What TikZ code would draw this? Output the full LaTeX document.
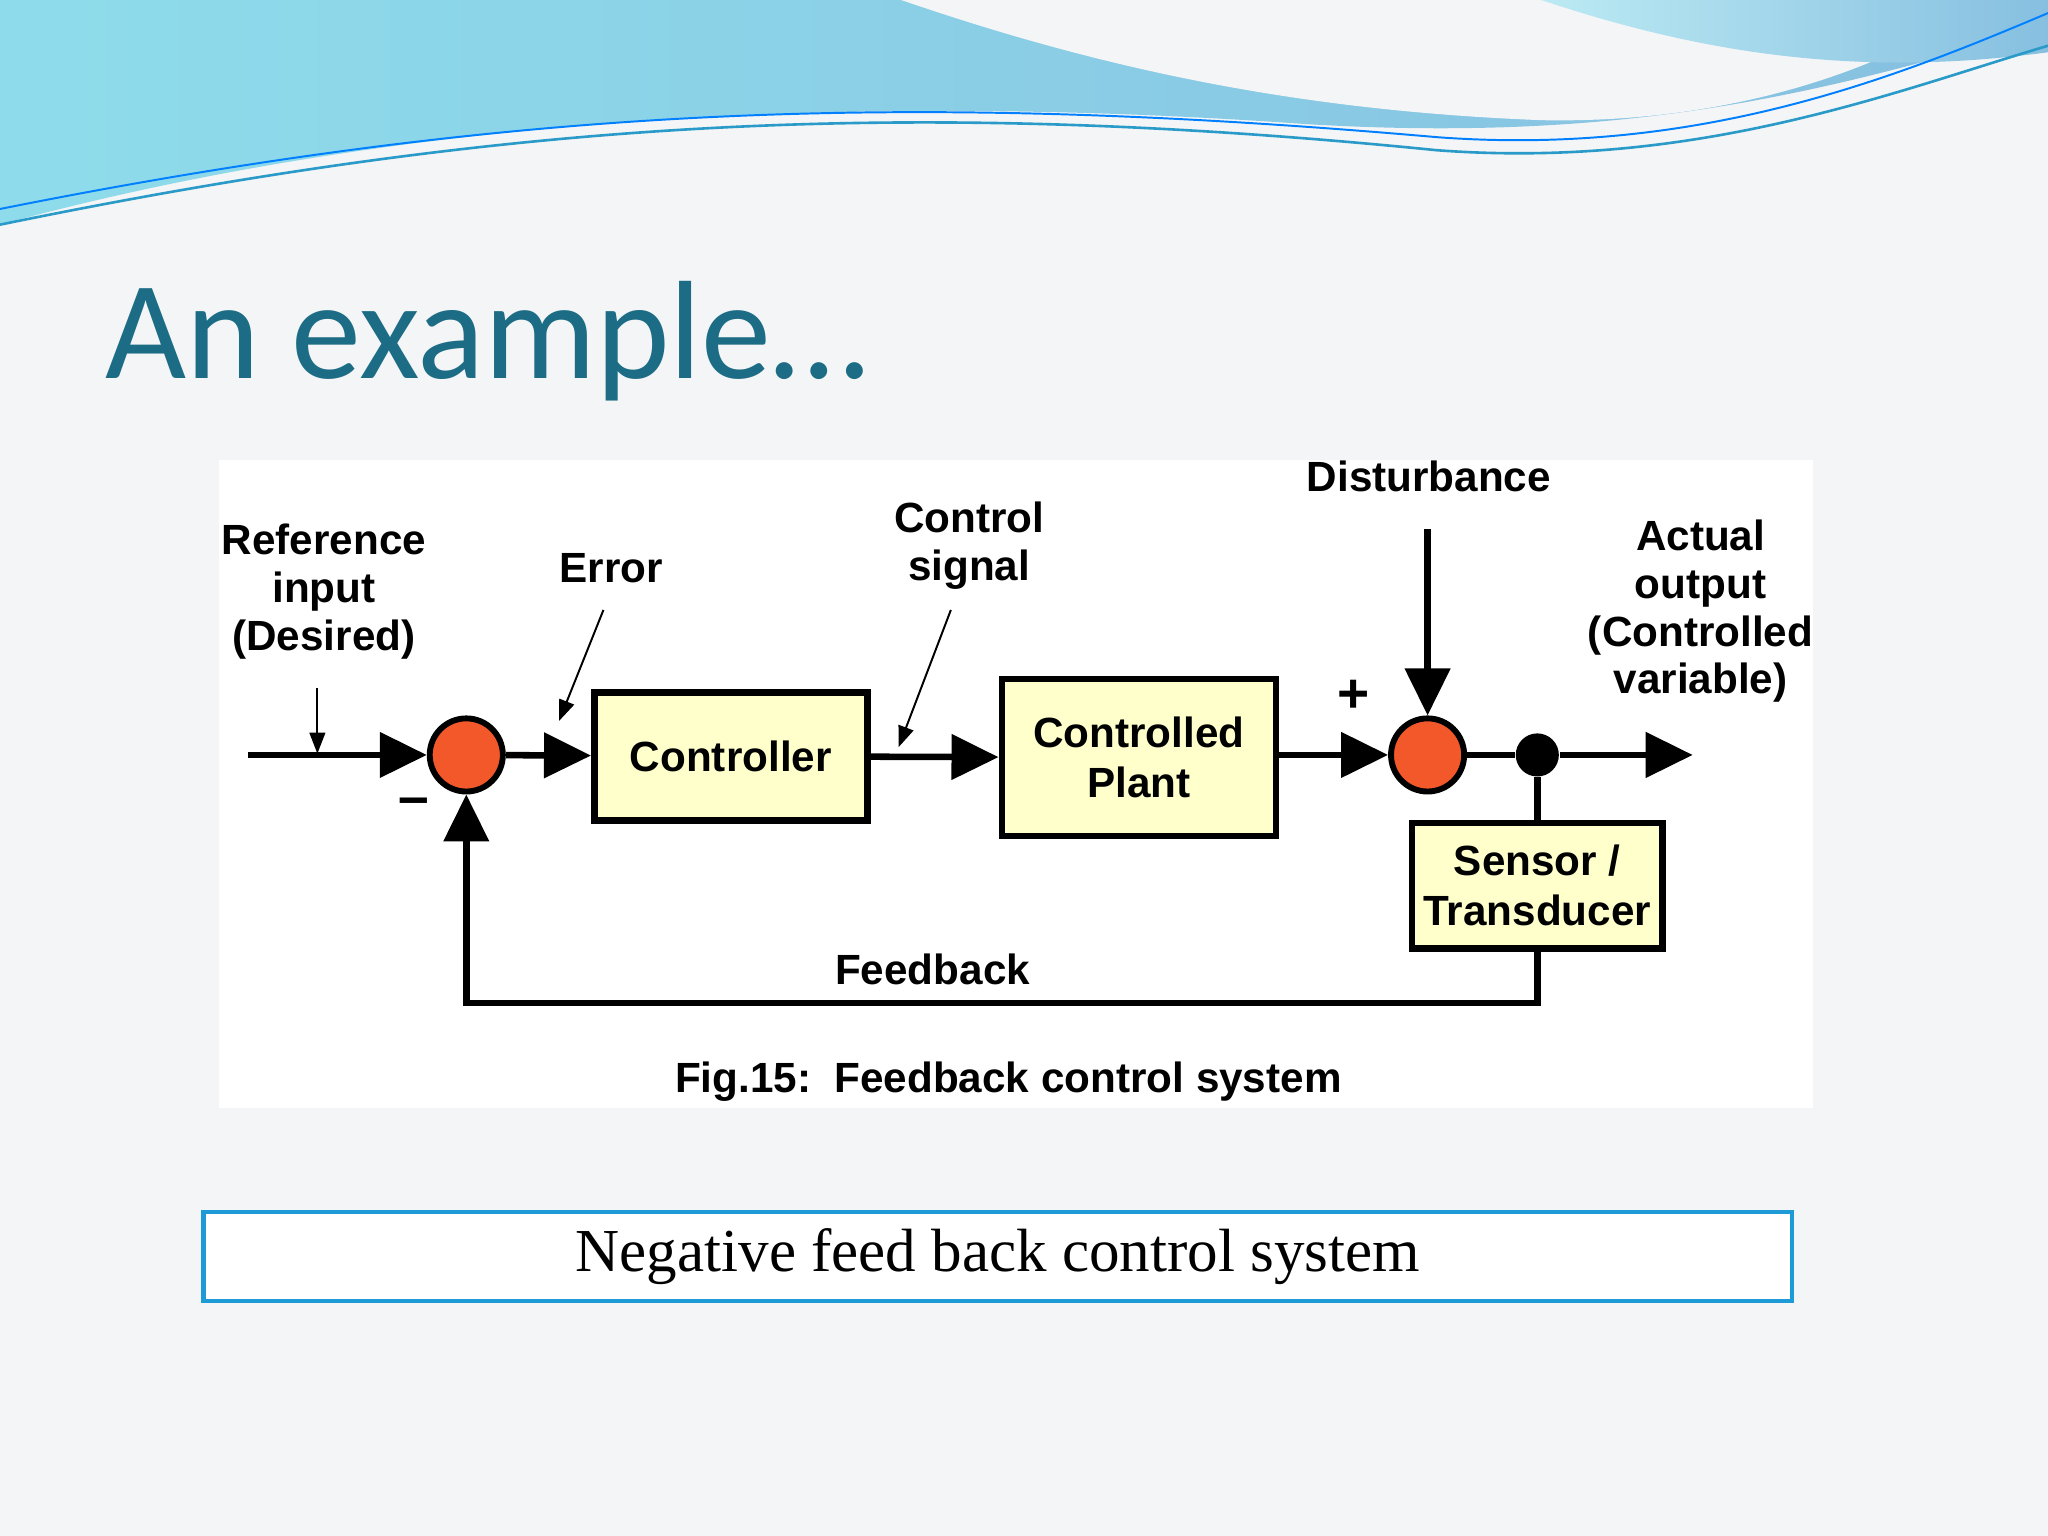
\documentclass[tikz,border=0pt]{standalone}
\usepackage{fontspec}
\setmainfont{Liberation Serif}
\newfontfamily\lab{Liberation Sans}
\newfontfamily\ttl{Carlito}
\usetikzlibrary{arrows.meta}
\definecolor{bg}{HTML}{F4F5F7}
\definecolor{ttlc}{HTML}{1B6C84}
\definecolor{boxy}{HTML}{FFFFCC}
\definecolor{sumc}{HTML}{F2582A}
\definecolor{blu}{HTML}{1E9AD6}
\definecolor{wav1}{HTML}{8EDCEB}
\definecolor{wav2}{HTML}{86BFE0}
\tikzset{
 blk/.style={draw=black,line width=0.5mm,fill=boxy,font=\lab\bfseries\fontsize{9.2pt}{10.8pt}\selectfont,align=center,inner sep=0pt},
 sumn/.style={circle,draw=black,line width=0.45mm,fill=sumc,minimum size=5.6mm,inner sep=0pt},
 sig/.style={line width=0.5mm,-{Triangle[length=3.6mm,width=3.4mm]}},
 ln/.style={line width=0.5mm},
 thin/.style={line width=0.15mm,-{Triangle[length=1.6mm,width=1.2mm]}},
 txt/.style={font=\lab\bfseries\fontsize{9.2pt}{10.4pt}\selectfont,align=center,inner sep=0pt}
}
\begin{document}
\begin{tikzpicture}[x=0.1mm,y=-0.1mm]
\useasboundingbox (0,0) rectangle (1568,1176);
\fill[bg] (0,0) rectangle (1568,1176);
% top wave
\shade[left color=wav1,right color=wav2]
 (0,0)--(0,172) .. controls (300,90) and (650,70) .. (1000,95) .. controls (1250,110) and (1400,70) .. (1568,20) -- (1568,0) -- cycle;
\fill[bg] (690,0) .. controls (850,55) and (1000,85) .. (1180,92) .. controls (1330,95) and (1450,50) .. (1520,0) -- cycle;
\shade[left color=wav1!60!white,right color=wav2] (1180,0) .. controls (1300,40) and (1420,60) .. (1568,40) -- (1568,0) -- cycle;
\draw[cyan!60!teal,line width=0.2mm] (0,172) .. controls (400,90) and (700,75) .. (1100,115) .. controls (1300,130) and (1450,70) .. (1568,35);
\draw[blue!50!cyan,line width=0.15mm] (0,160) .. controls (400,80) and (700,70) .. (1100,105) .. controls (1300,120) and (1450,60) .. (1568,10);
% title
\node[anchor=base west,font=\ttl\fontsize{30.5pt}{34pt}\selectfont,text=ttlc,inner sep=0pt] (title) at (80,290) {An example…};
% panel
\fill[white] (168,352) rectangle (1388,848);
\begin{scope}
\clip (168,352) rectangle (1388,848);
\node[blk,minimum width=20.9mm,minimum height=9.8mm] (ctrl) at (559.5,579) {Controller};
\node[blk,minimum width=21mm,minimum height=12mm] (plant) at (872,580) {Controlled\\Plant};
\node[blk,minimum width=19.2mm,minimum height=9.6mm] (sens) at (1177,678) {Sensor /\\Transducer};
\node[sumn] (s1) at (357,578) {};
\node[sumn] (s2) at (1093,578) {};
\node[circle,fill=black,minimum size=3.3mm,inner sep=0pt] (dot) at (1177,578) {};
\coordinate (in) at (190,578);
\coordinate (out) at (1296,578);
\coordinate (dist) at (1093,405);
\coordinate (fb1) at (1177,768);
\coordinate (fb2) at (357,768);
\draw[sig] (in) -- (s1);
\draw[sig] (s1) -- (ctrl);
\draw[sig] (ctrl) -- (plant);
\draw[sig] (plant.east|-s2) -- (s2);
\draw[ln] (s2) -- (dot);
\draw[sig] (dot) -- (out);
\draw[ln] (dot) -- (sens);
\draw[sig] (dist) -- (s2);
\draw[sig,line join=miter] (sens.south) -- (fb1) -- (fb2) -- (s1);
% labels
\node[txt] (ref) at (248,453) {Reference\\input\\(Desired)};
\coordinate (r1) at (243,527); \coordinate (r2) at (243,577);
\draw[thin] (r1) -- (r2);
\node[txt] (err) at (468,435) {Error};
\coordinate (e1) at (462,467); \coordinate (e2) at (428,552);
\draw[thin] (e1) -- (e2);
\node[txt] (cs) at (742,418) {Control\\signal};
\coordinate (c1) at (728,467); \coordinate (c2) at (688,572);
\draw[thin] (c1) -- (c2);
\node[txt] (dl) at (1094,365) {Disturbance};
\node[txt] (ao) at (1302,468) {Actual\\output\\(Controlled\\variable)};
\node[txt,font=\lab\bfseries\fontsize{12pt}{12pt}\selectfont] (plus) at (1036,533) {+};
\node[txt,font=\lab\bfseries\fontsize{12pt}{12pt}\selectfont] (minus) at (317,618) {–};
\node[txt] (fbl) at (714,742) {Feedback};
\node[txt] (fig) at (772,828) {Fig.15:\ \ Feedback control system};
\end{scope}
% bottom box
\node[draw=blu,line width=0.35mm,fill=white,minimum width=121.6mm,minimum height=6.8mm,font=\fontsize{13.3pt}{14pt}\selectfont] (neg) at (764,962) {Negative feed back control system};
\end{tikzpicture}
\end{document}
